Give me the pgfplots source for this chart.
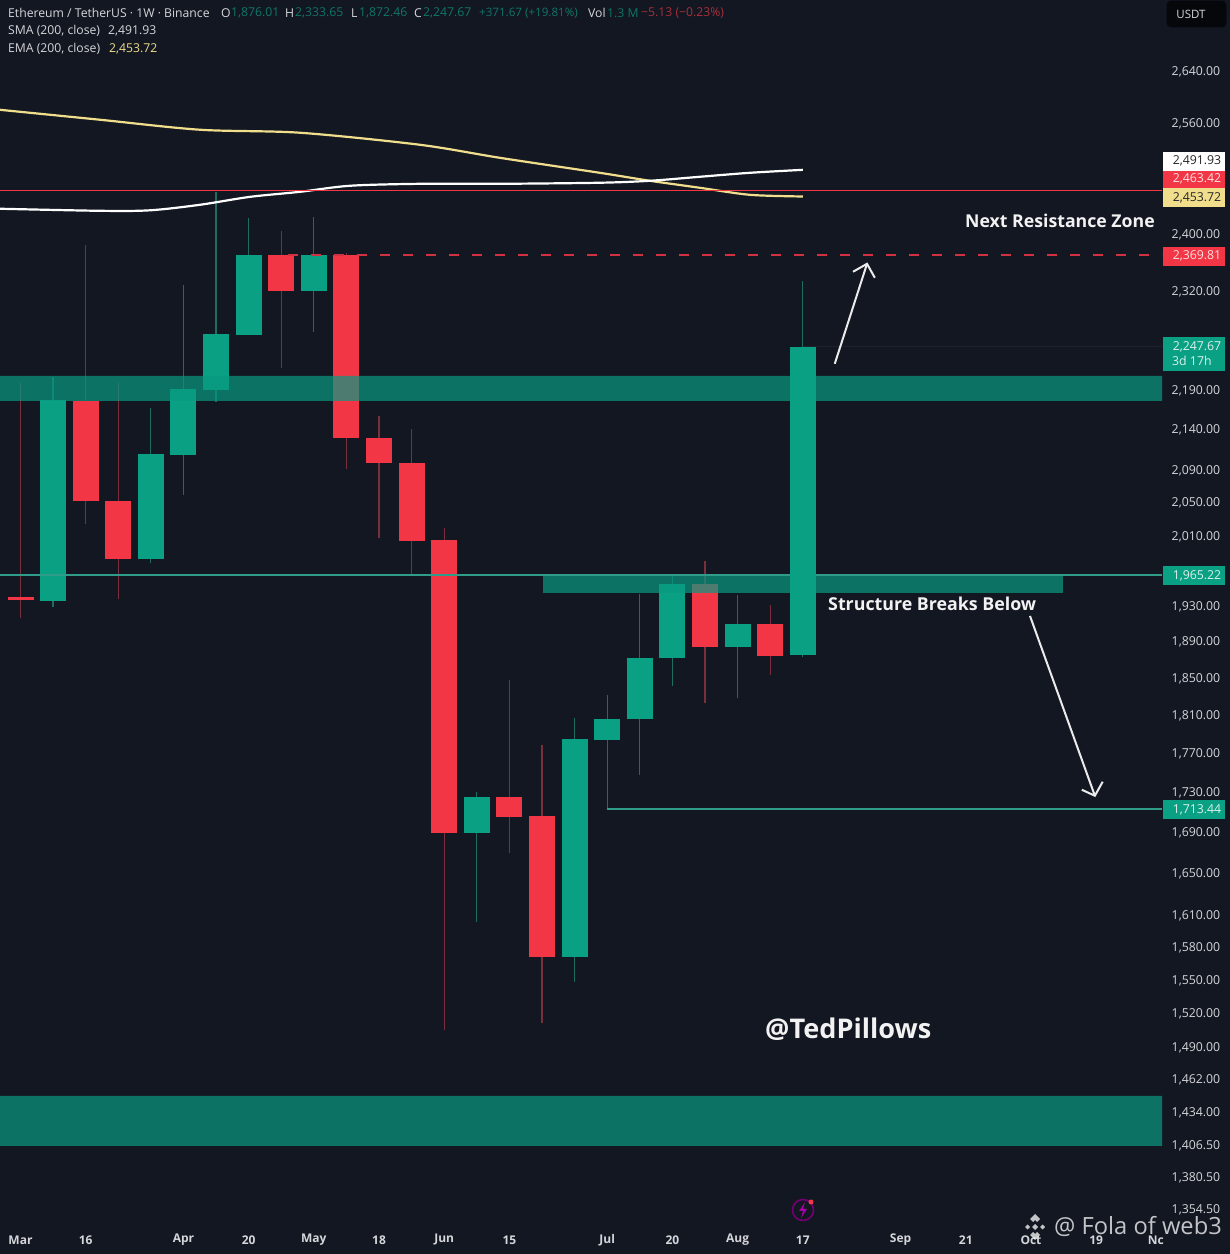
\documentclass[border=0pt]{standalone}
\usepackage{fontspec}
\setmainfont{Open Sans}
\usepackage{pgfplots}
\pgfplotsset{compat=1.18}
\definecolor{bg}{HTML}{131722}
\definecolor{up}{HTML}{0AA083}
\definecolor{upz}{HTML}{089981}
\definecolor{dn}{HTML}{F23645}
\definecolor{upw}{HTML}{1F6B60}
\definecolor{dnw}{HTML}{7A303C}
\definecolor{txt}{HTML}{D4D6DA}
\definecolor{emay}{HTML}{F0DE8C}
\definecolor{dimg}{HTML}{0E7668}
\definecolor{dimr}{HTML}{A62F3C}
\definecolor{lvl}{HTML}{2F9C8A}
\begin{document}
\begin{tikzpicture}
\path[use as bounding box] (0pt,0pt) rectangle (1230pt,1254pt);
\fill[bg] (0pt,0pt) rectangle (1230pt,1254pt);
\begin{axis}[
  at={(0pt,29pt)}, anchor=south west,
  scale only axis, width=1162pt, height=1225pt,
  ymode=log, xmin=-0.629, xmax=35.02, ymin=1342.2, ymax=2752.2,
  unbounded coords=jump,
  axis line style={draw=none},
  major tick length=0pt, minor tick length=0pt,
  yminorticks=false, xminorticks=false,
  yticklabel pos=right,
  tick label style={font=\fontsize{12.3}{14}\selectfont, text=txt, inner sep=0pt},
  yticklabel style={anchor=west, xshift=9.5pt, yshift=-1pt},
  xticklabel style={anchor=center, yshift=-15pt, font=\fontsize{12}{14}\selectfont\bfseries},
  ytick={2640,2560,2400,2320,2190,2140,2090,2050,2010,1930,1890,1850,1810,1770,1730,1690,1650,1610,1580,1550,1520,1490,1462,1434,1406.5,1380.5,1354.5},
  yticklabels={{2,640.00},{2,560.00},{2,400.00},{2,320.00},{2,190.00},{2,140.00},{2,090.00},{2,050.00},{2,010.00},{1,930.00},{1,890.00},{1,850.00},{1,810.00},{1,770.00},{1,730.00},{1,690.00},{1,650.00},{1,610.00},{1,580.00},{1,550.00},{1,520.00},{1,490.00},{1,462.00},{1,434.00},{1,406.50},{1,380.50},{1,354.50}},
  xtick={0,2,5,7,9,11,13,15,18,20,22,24,27,29,31,33,34.83},
  xticklabels={Mar,16,Apr,20,May,18,Jun,15,Jul,20,Aug,17,Sep,21,Oct,19,Nc},
]
% faint last-price line
\addplot[line width=0.6pt, color=white, opacity=0.05] coordinates {(24,2246)(35.02,2246)};
% wicks
\addplot[line width=1.2pt, color=upw] coordinates {
 (1,1928.3)(1,2206.5)(1,nan) (4,1978.6)(4,2166.8)(4,nan) (5,2059.1)(5,2328.8)(5,nan)
 (6,2174.4)(6,2459.2)(6,nan) (7,2261.5)(7,2422.0)(7,nan) (9,2265.5)(9,2423.5)(9,nan)
 (14,1603.2)(14,1730.1)(14,nan) (17,1547.7)(17,1806.8)(17,nan) (18,1712.5)(18,1831.3)(18,nan)
 (19,1747.4)(19,1943.0)(19,nan) (20,1841.0)(20,1965.0)(20,nan) (22,1828.1)(22,1941.9)(22,nan)
 (24,1872.46)(24,2333.65)};
\addplot[line width=1.2pt, color=dnw] coordinates {
 (0,1915.9)(0,2198.8)(0,nan) (2,2024.4)(2,2384.0)(2,nan) (3,1937.3)(3,2198.8)(3,nan)
 (8,2218.2)(8,2403.6)(8,nan) (10,2090.7)(10,2372.0)(10,nan) (11,2007.8)(11,2156.6)(11,nan)
 (12,1965.9)(12,2140.3)(12,nan) (13,1504.8)(13,2019.6)(13,nan) (15,1669.3)(15,1847.5)(15,nan)
 (16,1511.0)(16,1778.4)(16,nan) (21,1822.7)(21,1981.0)(21,nan) (23,1852.9)(23,1930.5)};
% bodies
\addplot[line width=26pt, color=up] coordinates {
 (1,1935.0)(1,2176.9)(1,nan) (4,1983.3)(4,2109.0)(4,nan) (5,2107.9)(5,2191.0)(5,nan)
 (6,2189.7)(6,2262.8)(6,nan) (7,2261.5)(7,2370.0)(7,nan) (9,2320.6)(9,2370.0)(9,nan)
 (14,1689.0)(14,1725.1)(14,nan) (17,1570.6)(17,1784.7)(17,nan) (18,1783.6)(18,1806.0)(18,nan)
 (19,1805.7)(19,1871.5)(19,nan) (20,1871.5)(20,1954.4)(20,nan) (22,1883.6)(22,1909.1)(22,nan)
 (24,1874.8)(24,2246.0)};
\addplot[line width=26pt, color=dn] coordinates {
 (0,1935.6)(0,1939.0)(0,nan) (2,2051.8)(2,2175.7)(2,nan) (3,1983.3)(3,2051.8)(3,nan)
 (8,2320.6)(8,2370.0)(8,nan) (10,2129.0)(10,2370.0)(10,nan) (11,2098.0)(11,2129.0)(11,nan)
 (12,2004.3)(12,2098.0)(12,nan) (13,1689.0)(13,2005.5)(13,nan) (15,1704.9)(15,1725.1)(15,nan)
 (16,1570.6)(16,1706.0)(16,nan) (21,1883.6)(21,1954.4)(21,nan) (23,1873.7)(23,1909.1)};
% zones
\addplot[fill=upz, fill opacity=0.7, draw=none] coordinates {(-0.629,2175.7)(35.02,2175.7)(35.02,2207.8)(-0.629,2207.8)(-0.629,2175.7)};
\addplot[fill=upz, fill opacity=0.7, draw=none] coordinates {(16.03,1944.1)(31.98,1944.1)(31.98,1964.7)(16.03,1964.7)(16.03,1944.1)};
\addplot[fill=upz, fill opacity=0.7, draw=none] coordinates {(-0.629,1405.9)(35.02,1405.9)(35.02,1447.7)(-0.629,1447.7)(-0.629,1405.9)};
% moving averages
\addplot[smooth, line width=2.2pt, color=emay] coordinates {(-0.63,2580.3)(2.44,2565.3)(5.51,2550.3)(8.57,2545.8)(12.25,2528.0)(14.71,2508.7)(17.77,2486.8)(19.31,2475.1)(20.84,2465.0)(22.38,2454.9)(24,2452.5)};
\addplot[smooth, line width=2.2pt, color=white] coordinates {(-0.63,2434.9)(2.44,2432.0)(3.97,2432.7)(5.51,2440.6)(7.04,2452.0)(8.57,2459.2)(10.11,2467.9)(12.25,2470.8)(14.71,2470.8)(17.77,2472.3)(19.31,2475.1)(20.84,2481.0)(22.38,2486.8)(24,2491.1)};
% levels
\addplot[line width=1.9pt, color=dn] coordinates {(-0.629,2461)(35.02,2461)};
\addplot[line width=1.9pt, color=dn!85!bg, dash pattern=on 10pt off 13pt] coordinates {(8.2,2369.8)(35.02,2369.8)};
\addplot[line width=1.9pt, color=lvl] coordinates {(-0.629,1965.2)(35.02,1965.2)};
\addplot[line width=1.9pt, color=lvl] coordinates {(18,1712.5)(35.02,1712.5)};
% big last candle stays on top
\addplot[line width=26pt, color=up] coordinates {(24,1874.8)(24,2246.0)};
% arrows
\addplot[line width=2pt, color=white!92!black] coordinates {(24.98,2223.4)(25.97,2357.6)};
\addplot[line width=2pt, color=white!92!black] coordinates {(25.54,2346.6)(25.97,2357.6)(26.21,2338.4)};
\addplot[line width=2pt, color=white!92!black] coordinates {(30.97,1918.1)(32.96,1726.1)};
\addplot[line width=2pt, color=white!92!black] coordinates {(32.56,1732.2)(32.96,1726.1)(33.2,1740.3)};
\end{axis}
\begin{scope}[x=1pt,y=1pt]
% header
\begin{scope}[every node/.style={anchor=west, inner sep=0pt, font=\fontsize{12.2}{14}\selectfont}]
\node[text=txt] at (8,1241) {Ethereum / TetherUS · 1W · Binance};
\node[text=txt] at (221,1241) {O}; \node[text=dimg] at (231,1241) {1,876.01};
\node[text=txt] at (285,1241) {H}; \node[text=dimg] at (295,1241) {2,333.65};
\node[text=txt] at (351,1241) {L}; \node[text=dimg] at (359,1241) {1,872.46};
\node[text=txt] at (414,1241) {C}; \node[text=dimg] at (423,1241) {2,247.67};
\node[text=dimg, font=\fontsize{11.6}{14}\selectfont] at (479,1241) {+371.67 (+19.81\%)};
\node[text=txt] at (588,1241) {Vol}; \node[text=dimg] at (607,1241) {1.3 M};
\node[text=dimr] at (641,1241) {−5.13 (−0.23\%)};
\node[text=txt] at (8,1223) {SMA (200, close)};
\node[text=txt] at (108,1223) {2,491.93};
\node[text=txt] at (8,1205) {EMA (200, close)};
\node[text=emay] at (109,1205) {2,453.72};
\end{scope}
% USDT
\draw[fill=black!70!bg, draw=black!60!bg, rounded corners=4pt, line width=0.8pt] (1167,1227) rectangle (1226,1253);
\node[text=txt, inner sep=0pt, font=\fontsize{11.5}{13}\selectfont] at (1191,1240) {USDT};
% price tags
\begin{scope}[every node/.style={inner sep=0pt, font=\fontsize{12.3}{14}\selectfont}]
\fill[white] (1163,1083) rectangle (1225,1102);
\fill[dn] (1163,1066) rectangle (1225,1083);
\fill[emay] (1163,1047) rectangle (1225,1066);
\fill[dn] (1163,988) rectangle (1225,1007);
\fill[up] (1163,883) rectangle (1225,917);
\fill[up] (1163,669) rectangle (1225,688);
\fill[up] (1163,435) rectangle (1225,454);
\node[text=black!85] at (1197,1093) {2,491.93};
\node[text=white!85!dn] at (1197,1075) {2,463.42};
\node[text=black!85] at (1197,1056) {2,453.72};
\node[text=white!85!dn] at (1197,998) {2,369.81};
\node[text=white!85!up] at (1197,907) {2,247.67};
\node[text=white!85!up,anchor=west] at (1172,893) {3d 17h};
\node[text=white!85!up] at (1197,678) {1,965.22};
\node[text=white!85!up] at (1197,444) {1,713.44};
\end{scope}
% annotations
\node[anchor=west, inner sep=0pt, text=white!95!black, font=\fontsize{17.7}{20}\selectfont\bfseries] at (965,1033) {Next Resistance Zone};
\node[anchor=west, inner sep=0pt, text=white!95!black, font=\fontsize{17.8}{20}\selectfont\bfseries] at (828,650) {Structure Breaks Below};
\node[anchor=west, inner sep=0pt, text=white!95!black, font=\fontsize{27.1}{30}\selectfont\bfseries] at (765,225) {@TedPillows};
% alert icon
\draw[color=violet!70!magenta!70!black, line width=1.6pt] (803,44) circle (10.5);
\fill[color=violet!70!magenta] (805,52) -- (799,43) -- (803,43) -- (801,36) -- (807,45) -- (803,45) -- cycle;
\fill[dn] (811,52) circle (2.5);
% watermark
\begin{scope}[opacity=0.75]
\node[anchor=west, inner sep=0pt, text=white, font=\fontsize{23.7}{28}\selectfont] at (1054,27) {@ Fola of web3};
\fill[white] (1035,40) -- (1040,35) -- (1037,32) -- (1035,34) -- (1033,32) -- (1030,35) -- cycle;
\fill[white] (1035,14) -- (1040,19) -- (1037,22) -- (1035,20) -- (1033,22) -- (1030,19) -- cycle;
\fill[white] (1035,30) -- (1038,27) -- (1035,24) -- (1032,27) -- cycle;
\fill[white] (1025,27) -- (1027.5,29.5) -- (1030,27) -- (1027.5,24.5) -- cycle;
\fill[white] (1040,27) -- (1042.5,29.5) -- (1045,27) -- (1042.5,24.5) -- cycle;
\end{scope}
\end{scope}
\end{tikzpicture}
\end{document}
